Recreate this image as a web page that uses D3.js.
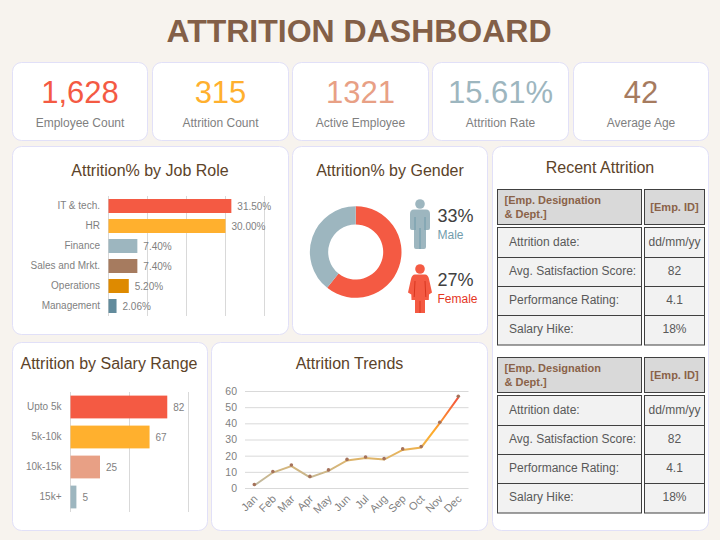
<!DOCTYPE html>
<html>
<head>
    <title>Attrition Dashboard</title>
    <style>
        html, body { margin: 0; padding: 0; background: #f7f3ee; }
        svg { display: block; font-family: "Liberation Sans", Arial, sans-serif; }
        .axis .domain { display: none; }
    </style>
</head>
<body>
    <div id="chart"></div>

    <script src="https://cdnjs.cloudflare.com/ajax/libs/d3/7.8.5/d3.min.js"></script>

    <script>
        // KPI cards
        const kpiValues = ["1,628", "315", "1321", "15.61%", "42"];
        const kpiLabels = ["Employee Count", "Attrition Count", "Active Employee", "Attrition Rate", "Average Age"];

        // Job role bars
        const jobRoles = ["IT & tech.", "HR", "Finance", "Sales and Mrkt.", "Operations", "Management"];
        const jobValues = [31.5, 30, 7.4, 7.4, 5.2, 2.06];
        const jobLabels = ["31.50%", "30.00%", "7.40%", "7.40%", "5.20%", "2.06%"];

        // Gender donut, share of the ring
        const genderNames = ["Female", "Male"];
        const genderShares = [60.7, 39.3];

        // Salary bars
        const salaryRanges = ["Upto 5k", "5k-10k", "10k-15k", "15k+"];
        const salaryValues = [82, 67, 25, 5];

        // Trend line
        const months = ["Jan", "Feb", "Mar", "Apr", "May", "Jun", "Jul", "Aug", "Sep", "Oct", "Nov", "Dec"];
        const trendValues = [2.5, 10.5, 14.5, 7.5, 11.5, 18, 19.5, 18.5, 24.5, 26, 41, 57];

        // Recent attrition table
        const tableHeader = ["[Emp. Designation", "& Dept.]", "[Emp. ID]"];
        const tableLabels = ["Attrition date:", "Avg. Satisfaction Score:", "Performance Rating:", "Salary Hike:"];
        const tableValues = ["dd/mm/yy", "82", "4.1", "18%"];

        const red = "#f45a43", orange = "#ffb02e", slate = "#9db6bf", brown = "#a67b5f";
        const darkOrange = "#de8a00", teal = "#628b9c", salmon = "#e8a085";
        const titleColor = "#5c4329", axisText = "#7f7f7f", gridColor = "#d9d9d9";

        const svg = d3.select("#chart").append("svg").attr("width", 720).attr("height", 540);

        svg.append("rect").attr("width", 720).attr("height", 540).attr("fill", "#f7f3ee");

        svg.append("text")
            .attr("x", 359).attr("y", 42)
            .attr("text-anchor", "middle")
            .attr("font-size", 32).attr("font-weight", "bold")
            .attr("fill", "#835f47")
            .text("ATTRITION DASHBOARD");

        function card(x0, y0, x1, y1) {
            svg.append("rect")
                .attr("x", x0).attr("y", y0)
                .attr("width", x1 - x0).attr("height", y1 - y0)
                .attr("rx", 9)
                .attr("fill", "#fff")
                .attr("stroke", "#e1e0f8");
        }

        function panelTitle(text, x, y) {
            svg.append("text")
                .attr("x", x).attr("y", y)
                .attr("text-anchor", "middle")
                .attr("font-size", 16)
                .attr("fill", titleColor)
                .text(text);
        }

        // KPI row
        const kpiColors = [red, orange, salmon, slate, brown];
        const kpiEdges = [[12.5, 147.5], [152.5, 288.5], [292.5, 428.5], [432.5, 568.5], [573.5, 708.5]];

        kpiValues.forEach((v, i) => {
            const [x0, x1] = kpiEdges[i];
            const cx = (x0 + x1) / 2;
            card(x0, 62.5, x1, 140.5);
            svg.append("text")
                .attr("x", cx).attr("y", 103)
                .attr("text-anchor", "middle")
                .attr("font-size", 31)
                .attr("fill", kpiColors[i])
                .text(v);
            svg.append("text")
                .attr("x", cx).attr("y", 127)
                .attr("text-anchor", "middle")
                .attr("font-size", 12)
                .attr("fill", axisText)
                .text(kpiLabels[i]);
        });

        // Horizontal bars, shared by job role and salary panels
        function barPanel(opts) {
            const x = d3.scaleLinear().domain(opts.domain).range(opts.xRange);
            const y = d3.scaleBand().domain(opts.names).range(opts.yRange).paddingInner(opts.padding).paddingOuter(opts.padding / 2);

            const grid = svg.append("g")
                .attr("class", "axis")
                .attr("transform", `translate(0,${opts.yRange[1]})`)
                .call(d3.axisBottom(x).tickValues(opts.ticks).tickSize(opts.yRange[0] - opts.yRange[1]).tickFormat("").offset(0));
            grid.selectAll("line").attr("stroke", gridColor);

            svg.append("g").selectAll("rect")
                .data(opts.values)
                .join("rect")
                .attr("x", x(0))
                .attr("y", (d, i) => y(opts.names[i]))
                .attr("width", d => x(d) - x(0))
                .attr("height", y.bandwidth())
                .attr("fill", (d, i) => opts.colors[i]);

            svg.append("g").selectAll("text")
                .data(opts.values)
                .join("text")
                .attr("x", d => x(d) + 6)
                .attr("y", (d, i) => y(opts.names[i]) + y.bandwidth() / 2 + 3.5)
                .attr("font-size", 10)
                .attr("fill", axisText)
                .text((d, i) => opts.labels[i]);

            const left = svg.append("g")
                .attr("class", "axis")
                .attr("transform", `translate(${opts.labelRight},0)`)
                .call(d3.axisLeft(y).tickSize(0).tickPadding(0).offset(0));
            left.selectAll("text")
                .attr("font-size", 10)
                .attr("font-family", "inherit")
                .attr("fill", axisText);
        }

        card(12.5, 146.5, 288.5, 334.5);
        panelTitle("Attrition% by Job Role", 150, 175.5);
        barPanel({
            names: jobRoles,
            values: jobValues,
            labels: jobLabels,
            colors: [red, orange, slate, brown, darkOrange, teal],
            domain: [0, 40],
            ticks: [0, 10, 20, 30, 40],
            xRange: [108.5, 264.5],
            yRange: [196, 316],
            padding: 0.3,
            labelRight: 100
        });

        card(12.5, 342.5, 207.5, 530.5);
        panelTitle("Attrition by Salary Range", 109, 369);
        barPanel({
            names: salaryRanges,
            values: salaryValues,
            labels: salaryValues,
            colors: [red, orange, salmon, slate],
            domain: [0, 100],
            ticks: [0, 50, 100],
            xRange: [70.5, 188.5],
            yRange: [392, 512],
            padding: 0.24,
            labelRight: 61.5
        });

        // Gender donut
        card(292.5, 146.5, 487.5, 334.5);
        panelTitle("Attrition% by Gender", 390, 175.5);

        const pie = d3.pie().sort(null)(genderShares);
        const arc = d3.arc().innerRadius(27.5).outerRadius(45.8);
        svg.append("g")
            .attr("transform", "translate(355.7,252)")
            .selectAll("path")
            .data(pie)
            .join("path")
            .attr("d", arc)
            .attr("fill", (d, i) => i === 0 ? red : slate);

        // Pictograms
        const maleIcon = svg.append("g");
        maleIcon.append("circle").attr("cx", 420).attr("cy", 204).attr("r", 4.8).attr("fill", slate);
        maleIcon.append("path")
            .attr("d", "M414 209.5H426Q430 209.5 430 214V228Q430 230 428 230H426V247Q426 249 424 249H416Q414 249 414 247V230H412Q410 230 410 228V214Q410 209.5 414 209.5Z")
            .attr("fill", slate);
        maleIcon.append("path")
            .attr("d", "M415 217V230M425 217V230M420 228V249")
            .attr("stroke", "#6f9aaa").attr("stroke-width", 1).attr("fill", "none");

        const femaleIcon = svg.append("g");
        femaleIcon.append("circle").attr("cx", 420).attr("cy", 269).attr("r", 4.8).attr("fill", red);
        femaleIcon.append("path")
            .attr("d", "M415 274.5H425Q428 274.5 429 279L432 292.5L429 294.5L428.8 300H425V313H415V300H411.5L411.3 294.5L408 292.5L411 279Q412 274.5 415 274.5Z")
            .attr("fill", red);
        femaleIcon.append("path")
            .attr("d", "M415 281L414.2 297M425 281L425.8 297M420 301V313")
            .attr("stroke", "#d9361f").attr("stroke-width", 1).attr("fill", "none");

        const genderText = [
            { pct: "33%", name: genderNames[1], y: 222, y2: 239, color: "#719cab" },
            { pct: "27%", name: genderNames[0], y: 286, y2: 303, color: "#e5371f" }
        ];
        genderText.forEach(d => {
            svg.append("text").attr("x", 437.5).attr("y", d.y)
                .attr("font-size", 18).attr("fill", "#404040").text(d.pct);
            svg.append("text").attr("x", 437.5).attr("y", d.y2)
                .attr("font-size", 12).attr("fill", d.color).text(d.name);
        });

        // Trend line
        card(211.5, 342.5, 487.5, 530.5);
        panelTitle("Attrition Trends", 349.5, 369);

        const tx = d3.scalePoint().domain(months).range([254.3, 458.3]);
        const ty = d3.scaleLinear().domain([0, 60]).range([488.5, 391.5]);

        const yAxis = svg.append("g")
            .attr("class", "axis")
            .attr("transform", "translate(245,0)")
            .call(d3.axisLeft(ty).ticks(6).tickSize(-223.5).tickPadding(8).offset(0));
        yAxis.selectAll("line").attr("stroke", gridColor);
        yAxis.selectAll("text").attr("font-size", 10.5).attr("font-family", "inherit").attr("fill", axisText);

        const xAxis = svg.append("g")
            .attr("class", "axis")
            .attr("transform", "translate(0,488.5)")
            .call(d3.axisBottom(tx).tickSize(0).tickPadding(0).offset(0));
        xAxis.selectAll("text")
            .attr("font-size", 11).attr("font-family", "inherit").attr("fill", axisText)
            .attr("text-anchor", "end")
            .attr("dy", 0)
            .attr("transform", "translate(4,11) rotate(-45)");

        const gradient = svg.append("defs").append("linearGradient")
            .attr("id", "trend-gradient")
            .attr("gradientUnits", "userSpaceOnUse")
            .attr("x1", 0).attr("x2", 0)
            .attr("y1", ty(2)).attr("y2", ty(57));
        gradient.append("stop").attr("offset", "0%").attr("stop-color", "#bcb9a6");
        gradient.append("stop").attr("offset", "35%").attr("stop-color", "#e3b462");
        gradient.append("stop").attr("offset", "60%").attr("stop-color", "#ffad2b");
        gradient.append("stop").attr("offset", "100%").attr("stop-color", "#f4523c");

        const line = d3.line()
            .x((d, i) => tx(months[i]))
            .y(d => ty(d));

        svg.append("path")
            .attr("d", line(trendValues))
            .attr("transform", "translate(0,1)")
            .attr("fill", "none")
            .attr("stroke", "url(#trend-gradient)")
            .attr("stroke-width", 2);

        svg.append("g").selectAll("circle")
            .data(trendValues)
            .join("circle")
            .attr("cx", (d, i) => tx(months[i]))
            .attr("cy", d => ty(d))
            .attr("r", 1.8)
            .attr("fill", "#a5725a");

        // Recent attrition
        card(492.5, 146.5, 708.5, 530.5);
        panelTitle("Recent Attrition", 600, 172.5);

        function detailTable(top) {
            const colA = [497.5, 641.5], colB = [644.5, 704.5];
            const rowY = [top + 38, top + 68, top + 97, top + 126, top + 155.5];

            [colA, colB].forEach(c => {
                svg.append("rect")
                    .attr("x", c[0]).attr("y", top)
                    .attr("width", c[1] - c[0]).attr("height", 35)
                    .attr("fill", "#d9d9d9").attr("stroke", "#404040");
                tableLabels.forEach((t, i) => {
                    svg.append("rect")
                        .attr("x", c[0]).attr("y", rowY[i])
                        .attr("width", c[1] - c[0]).attr("height", rowY[i + 1] - rowY[i])
                        .attr("fill", "#f2f2f2").attr("stroke", "#404040");
                });
            });

            svg.append("text").attr("x", 504.5).attr("y", top + 14.5)
                .attr("font-size", 11).attr("font-weight", "bold").attr("fill", "#8a6248").text(tableHeader[0]);
            svg.append("text").attr("x", 504.5).attr("y", top + 28)
                .attr("font-size", 11).attr("font-weight", "bold").attr("fill", "#8a6248").text(tableHeader[1]);
            svg.append("text").attr("x", 674.5).attr("y", top + 21.5)
                .attr("text-anchor", "middle")
                .attr("font-size", 11).attr("font-weight", "bold").attr("fill", "#8a6248").text(tableHeader[2]);

            tableLabels.forEach((t, i) => {
                const base = (rowY[i] + rowY[i + 1]) / 2 + 3;
                svg.append("text").attr("x", 509).attr("y", base)
                    .attr("font-size", 12).attr("fill", "#595959").text(t);
                svg.append("text").attr("x", 674.5).attr("y", base)
                    .attr("text-anchor", "middle")
                    .attr("font-size", 12).attr("fill", "#595959").text(tableValues[i]);
            });
        }

        detailTable(189.5);
        detailTable(357.5);
    </script>
</body>
</html>
